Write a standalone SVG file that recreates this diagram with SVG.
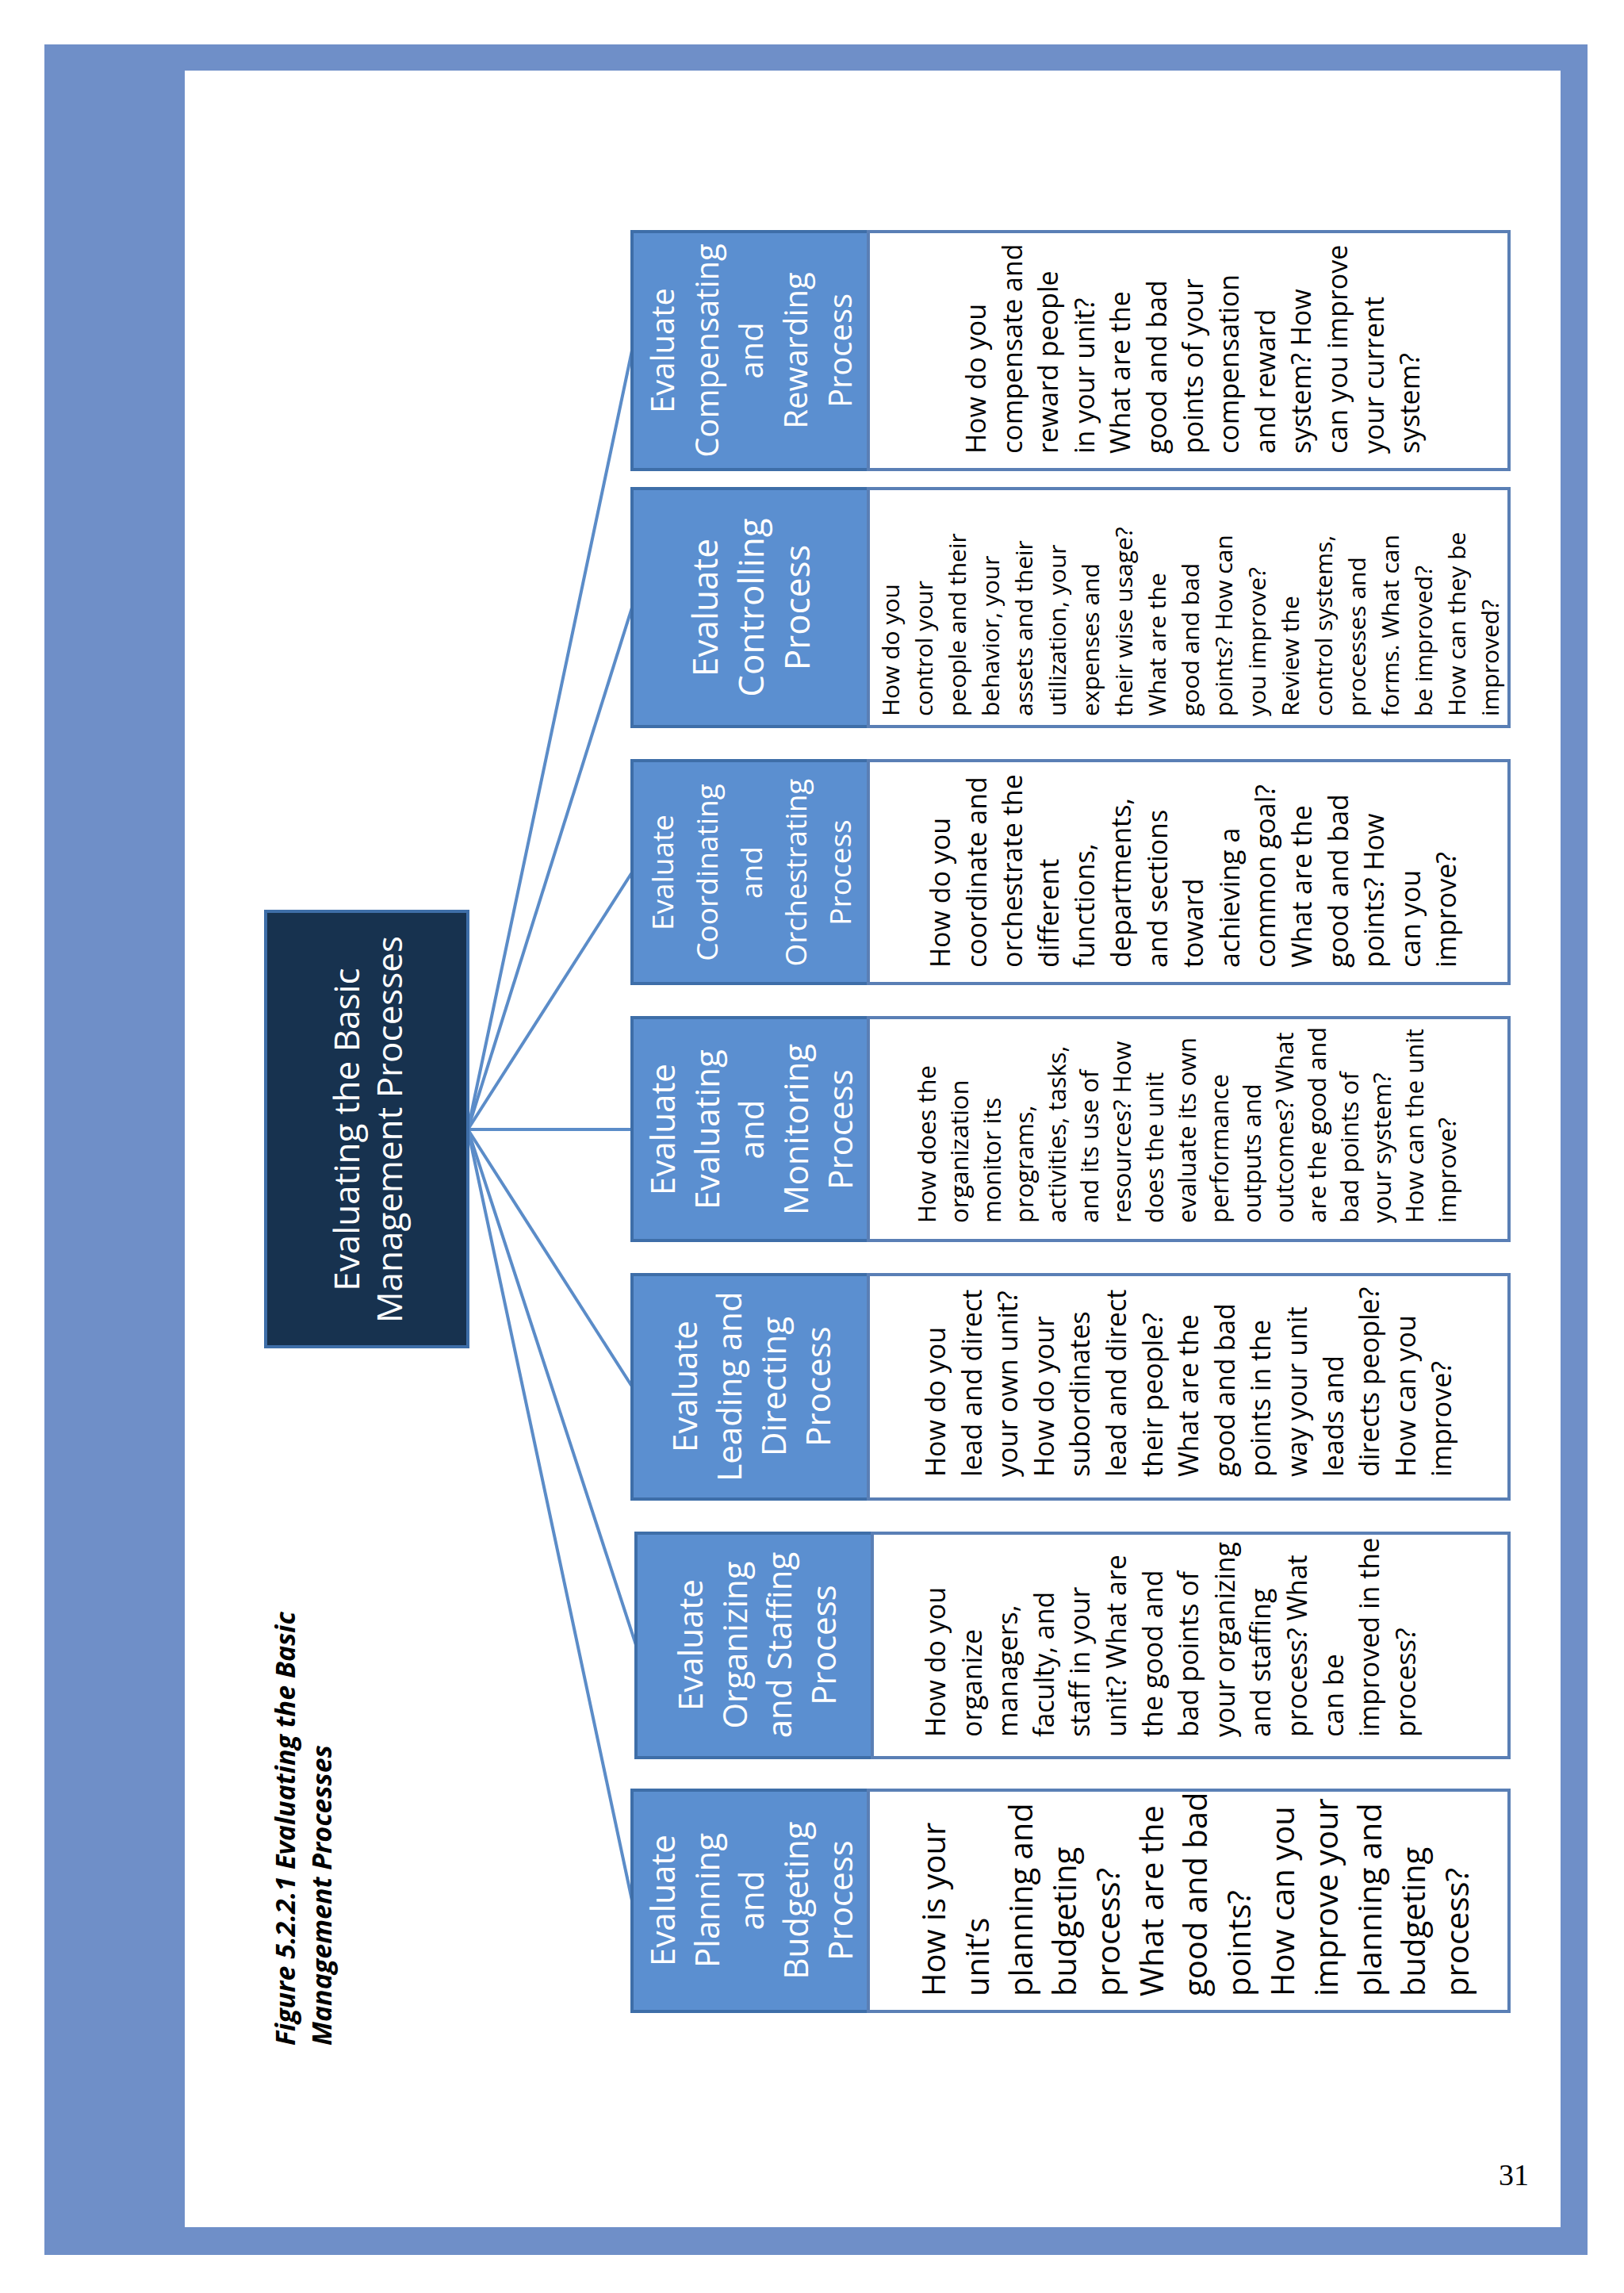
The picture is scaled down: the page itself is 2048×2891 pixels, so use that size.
<svg xmlns="http://www.w3.org/2000/svg" width="2048" height="2891" viewBox="0 0 2048 2891">
<style>
.hd{fill:#5b8fd0;stroke:#3e6ea8;stroke-width:4}
.bd{fill:#fff;stroke:#5a7fb5;stroke-width:4}
.ht{font-family:"Open Sans","Liberation Sans",sans-serif;fill:#fff;text-anchor:middle;dominant-baseline:central}
.bt{font-family:"Open Sans","Liberation Sans",sans-serif;fill:#000}
.cn{stroke:#5b8cc8;stroke-width:4;fill:none}
</style>
<rect x="0" y="0" width="2048" height="2891" fill="#fff"/>
<rect x="56" y="56" width="1946" height="2787" fill="#6f8fc8"/>
<rect x="233" y="89" width="1735" height="2719" fill="#fff"/>
<g id="caption" transform="translate(372,2579) rotate(-90)" font-family="'Open Sans','Liberation Sans',sans-serif" font-weight="bold" font-style="italic" font-size="34">
<text x="0" y="0">Figure 5.2.2.1  Evaluating the Basic</text>
<text x="0" y="46">Management Processes</text>
</g>
<text x="1890" y="2755" font-family="'Liberation Serif',serif" font-size="38">31</text>
<g id="connectors">
<line class="cn" x1="590" y1="1424" x2="797" y2="2396"/>
<line class="cn" x1="590" y1="1424" x2="802" y2="2074"/>
<line class="cn" x1="590" y1="1424" x2="797" y2="1748"/>
<line class="cn" x1="590" y1="1424" x2="797" y2="1424"/>
<line class="cn" x1="590" y1="1424" x2="797" y2="1100"/>
<line class="cn" x1="590" y1="1424" x2="797" y2="766"/>
<line class="cn" x1="590" y1="1424" x2="797" y2="442"/>
</g>
<g id="central">
<rect x="335" y="1149" width="255" height="549" fill="#17324f" stroke="#3e6ea8" stroke-width="4"/>
<g transform="translate(462,1424) rotate(-90)" class="ht" font-size="44">
<text x="0" y="-26">Evaluating the Basic</text>
<text x="0" y="28">Management Processes</text>
</g>
</g>
<g id="col1">
<rect class="hd" x="797" y="2257" width="298" height="279"/>
<rect class="bd" x="1095" y="2257" width="808" height="279"/>
<g transform="translate(946,2396) rotate(-90)" class="ht" font-size="42">
<text y="-112">Evaluate</text><text y="-56">Planning</text><text y="0">and</text><text y="56">Budgeting</text><text y="112">Process</text>
</g>
<g transform="translate(1192,2517) rotate(-90)" class="bt" font-size="40">
<text y="0">How is your</text><text y="55">unit’s</text><text y="110">planning and</text><text y="165">budgeting</text><text y="220">process?</text><text y="275">What are the</text><text y="330">good and bad</text><text y="385">points?</text><text y="440">How can you</text><text y="495">improve your</text><text y="550">planning and</text><text y="605">budgeting</text><text y="660">process?</text>
</g>
</g>
<g id="col2">
<rect class="hd" x="802" y="1933" width="298" height="283"/>
<rect class="bd" x="1100" y="1933" width="803" height="283"/>
<g transform="translate(953,2074) rotate(-90)" class="ht" font-size="42">
<text y="-84">Evaluate</text><text y="-28">Organizing</text><text y="28">and Staffing</text><text y="84">Process</text>
</g>
<g transform="translate(1192,2190) rotate(-90)" class="bt" font-size="34">
<text y="0">How do you</text><text y="45.6">organize</text><text y="91.2">managers,</text><text y="136.8">faculty, and</text><text y="182.4">staff in your</text><text y="228">unit? What are</text><text y="273.6">the good and</text><text y="319.2">bad points of</text><text y="364.8">your organizing</text><text y="410.4">and staffing</text><text y="456">process? What</text><text y="501.6">can be</text><text y="547.2">improved in the</text><text y="592.8">process?</text>
</g>
</g>
<g id="col3">
<rect class="hd" x="797" y="1607" width="298" height="283"/>
<rect class="bd" x="1095" y="1607" width="808" height="283"/>
<g transform="translate(946,1748) rotate(-90)" class="ht" font-size="42">
<text y="-84">Evaluate</text><text y="-28">Leading and</text><text y="28">Directing</text><text y="84">Process</text>
</g>
<g transform="translate(1192,1862) rotate(-90)" class="bt" font-size="34">
<text y="0">How do you</text><text y="45.6">lead and direct</text><text y="91.2">your own unit?</text><text y="136.8">How do your</text><text y="182.4">subordinates</text><text y="228">lead and direct</text><text y="273.6">their people?</text><text y="319.2">What are the</text><text y="364.8">good and bad</text><text y="410.4">points in the</text><text y="456">way your unit</text><text y="501.6">leads and</text><text y="547.2">directs people?</text><text y="592.8">How can you</text><text y="638.4">improve?</text>
</g>
</g>
<g id="col4">
<rect class="hd" x="797" y="1283" width="298" height="281"/>
<rect class="bd" x="1095" y="1283" width="808" height="281"/>
<g transform="translate(946,1424) rotate(-90)" class="ht" font-size="42">
<text y="-112">Evaluate</text><text y="-56">Evaluating</text><text y="0">and</text><text y="56">Monitoring</text><text y="112">Process</text>
</g>
<g transform="translate(1180,1542) rotate(-90)" class="bt" font-size="31">
<text y="0">How does the</text><text y="41">organization</text><text y="82">monitor its</text><text y="123">programs,</text><text y="164">activities, tasks,</text><text y="205">and its use of</text><text y="246">resources? How</text><text y="287">does the unit</text><text y="328">evaluate its own</text><text y="369">performance</text><text y="410">outputs and</text><text y="451">outcomes? What</text><text y="492">are the good and</text><text y="533">bad points of</text><text y="574">your system?</text><text y="615">How can the unit</text><text y="656">improve?</text>
</g>
</g>
<g id="col5">
<rect class="hd" x="797" y="959" width="298" height="281"/>
<rect class="bd" x="1095" y="959" width="808" height="281"/>
<g transform="translate(946,1100) rotate(-90)" class="ht" font-size="37">
<text y="-112">Evaluate</text><text y="-56">Coordinating</text><text y="0">and</text><text y="56">Orchestrating</text><text y="112">Process</text>
</g>
<g transform="translate(1198,1220) rotate(-90)" class="bt" font-size="34">
<text y="0">How do you</text><text y="45.6">coordinate and</text><text y="91.2">orchestrate the</text><text y="136.8">different</text><text y="182.4">functions,</text><text y="228">departments,</text><text y="273.6">and sections</text><text y="319.2">toward</text><text y="364.8">achieving a</text><text y="410.4">common goal?</text><text y="456">What are the</text><text y="501.6">good and bad</text><text y="547.2">points? How</text><text y="592.8">can you</text><text y="638.4">improve?</text>
</g>
</g>
<g id="col6">
<rect class="hd" x="797" y="616" width="298" height="300"/>
<rect class="bd" x="1095" y="616" width="808" height="300"/>
<g transform="translate(946,766) rotate(-90)" class="ht" font-size="44">
<text y="-58">Evaluate</text><text y="0">Controlling</text><text y="58">Process</text>
</g>
<g transform="translate(1134,903) rotate(-90)" class="bt" font-size="30">
<text y="0">How do you</text><text y="42">control your</text><text y="84">people and their</text><text y="126">behavior, your</text><text y="168">assets and their</text><text y="210">utilization, your</text><text y="252">expenses and</text><text y="294">their wise usage?</text><text y="336">What are the</text><text y="378">good and bad</text><text y="420">points? How can</text><text y="462">you improve?</text><text y="504">Review the</text><text y="546">control systems,</text><text y="588">processes and</text><text y="630">forms. What can</text><text y="672">be improved?</text><text y="714">How can they be</text><text y="756">improved?</text>
</g>
</g>
<g id="col7">
<rect class="hd" x="797" y="292" width="298" height="300"/>
<rect class="bd" x="1095" y="292" width="808" height="300"/>
<g transform="translate(946,442) rotate(-90)" class="ht" font-size="40">
<text y="-112">Evaluate</text><text y="-56">Compensating</text><text y="0">and</text><text y="56">Rewarding</text><text y="112">Process</text>
</g>
<g transform="translate(1243,572) rotate(-90)" class="bt" font-size="34">
<text y="0">How do you</text><text y="45.6">compensate and</text><text y="91.2">reward people</text><text y="136.8">in your unit?</text><text y="182.4">What are the</text><text y="228">good and bad</text><text y="273.6">points of your</text><text y="319.2">compensation</text><text y="364.8">and reward</text><text y="410.4">system? How</text><text y="456">can you improve</text><text y="501.6">your current</text><text y="547.2">system?</text>
</g>
</g>
</svg>
